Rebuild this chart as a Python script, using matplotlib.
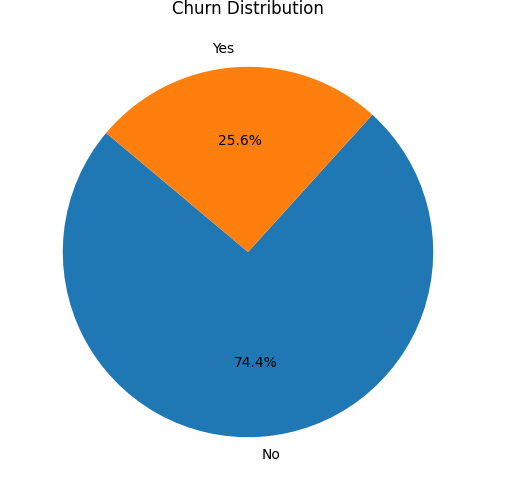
import matplotlib
matplotlib.use("Agg")
import matplotlib.pyplot as plt

labels = ["No", "Yes"]
values = [74.4, 25.6]
colors = ["#1f77b4", "#ff7f0e"]

W, H = 525, 487
fig = plt.figure(figsize=(W / 100, H / 100), dpi=100)
size = 462.5 * 185 / 210
cx, cy = 248, 252
ax = fig.add_axes([(cx - size / 2) / W, (H - cy - size / 2) / H, size / W, size / H])
ax.pie(values, labels=labels, colors=colors, autopct="%1.1f%%", startangle=140)
ax.set_title("Churn Distribution", y=1.0, pad=25)
ax.axis("equal")
fig.savefig("out.png", dpi=100)
